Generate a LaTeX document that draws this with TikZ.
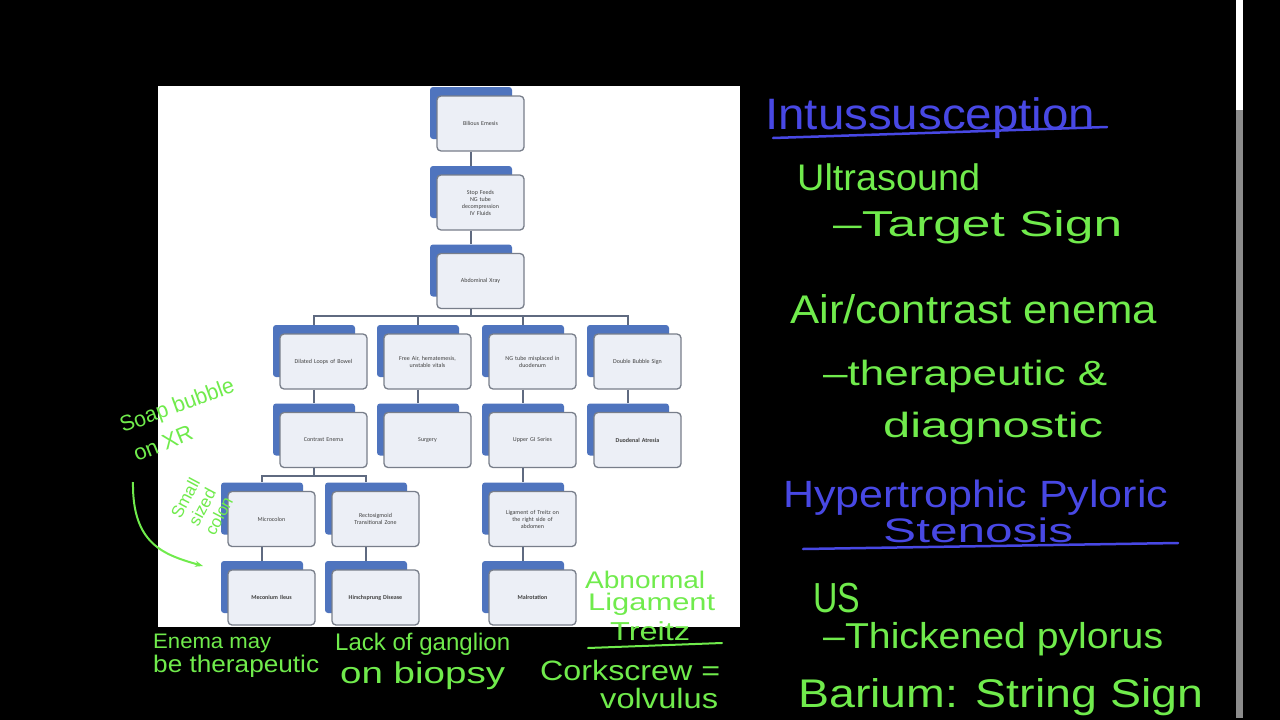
\documentclass[tikz,border=0pt]{standalone}
\usepackage{fontspec}
\setmainfont{Carlito}
\newfontfamily\handfont{Liberation Sans}
\usetikzlibrary{arrows.meta,positioning}
\usepackage{xcolor}
\definecolor{ChartBlue}{RGB}{79,116,190}
\definecolor{ChartFace}{RGB}{236,239,246}
\definecolor{ChartEdge}{RGB}{120,126,138}
\definecolor{ChartLink}{RGB}{95,106,128}
\definecolor{PenGreen}{RGB}{112,235,76}
\definecolor{PenBlue}{RGB}{72,72,228}

% stacked card: name, x, y (centre of the front card), text
\newcommand{\stackbox}[4]{%
  \node[boxback](#1-b) at (#2-9.5,#3-10.5) {};
  \node[box](#1) at (#2,#3) {#4};}
% pen note: width, font size, text
\newcommand{\scrawl}[3]{\resizebox{#1pt}{\height}{\handfont\fontsize{#2}{#2}\selectfont #3}}

\begin{document}
\begin{tikzpicture}[x=1pt,y=-1pt,box/.style={rectangle,rounded corners=4pt,draw=ChartEdge,line width=1.3pt,fill=ChartFace,align=center,text width=78pt,minimum width=87pt,minimum height=55pt,inner sep=0pt,text=black!75,font=\fontsize{6}{7}\selectfont},boxback/.style={rectangle,rounded corners=3pt,fill=ChartBlue,minimum width=82pt,minimum height=52pt,inner sep=0pt},link/.style={draw=ChartLink,line width=1.8pt},pen/.style={text=PenGreen,inner sep=0pt,anchor=base west},penblue/.style={text=PenBlue,inner sep=0pt,anchor=base west}]
\useasboundingbox (0,0) rectangle (1280,720);
\fill[black] (0,0) rectangle (1280,720);
\fill[white] (1236,0) rectangle (1243,110);
\fill[black!45] (1236,110) rectangle (1243,718);
\fill[white] (158,86) rectangle (740,627);
\coordinate (bus1) at (0,316);
\coordinate (bus2) at (0,476);

\stackbox{bil}{480.5}{123.5}{Bilious Emesis}
\stackbox{stop}{480.5}{202.5}{Stop Feeds\\NG tube\\decompression\\IV Fluids}
\stackbox{abd}{480.5}{281}{Abdominal Xray}
\stackbox{dil}{323.5}{361.5}{Dilated Loops of Bowel}
\stackbox{free}{427.5}{361.5}{Free Air, hematemesis,\\unstable vitals}
\stackbox{ngt}{532.5}{361.5}{NG tube misplaced in\\duodenum}
\stackbox{dbl}{637.5}{361.5}{Double Bubble Sign}
\stackbox{con}{323.5}{440}{Contrast Enema}
\stackbox{sur}{427.5}{440}{Surgery\\[6pt]}
\stackbox{ugi}{532.5}{440}{Upper GI Series}
\stackbox{duo}{637.5}{440}{\textbf{Duodenal Atresia}}
\stackbox{mic}{271.5}{519}{Microcolon}
\stackbox{rec}{375.5}{519}{Rectosigmoid\\Transitional Zone}
\stackbox{lig}{532.5}{519}{Ligament of Treitz on\\the right side of\\abdomen}
\stackbox{mec}{271.5}{597.5}{\textbf{Meconium Ileus}}
\stackbox{hir}{375.5}{597.5}{\textbf{Hirschsprung Disease}}
\stackbox{mal}{532.5}{597.5}{\textbf{Malrotation}}

\foreach \a/\b in {bil/stop,stop/abd,dil/con,free/sur,ngt/ugi,dbl/duo,ugi/lig,mic/mec,rec/hir,lig/mal}{\draw[link](\a-b |- \a.south)--(\b-b.north);}
\foreach \b in {dil,free,ngt,dbl}{\draw[link](abd-b |- abd.south)--(abd-b |- bus1)-|(\b-b.north);}
\foreach \b in {mic,rec}{\draw[link](con-b |- con.south)--(con-b |- bus2)-|(\b-b.north);}

% notes written over the slide
\node[penblue](intu) at (765,129) {\scrawl{330}{44}{Intussusception}};
\draw[PenBlue,line width=2.5pt,line cap=round] (773,138)--(1107,127);
\node[pen](ultra) at (797,190) {\scrawl{183}{37}{Ultrasound}};
\node[pen](target) at (833,236) {\scrawl{289}{36}{–Target Sign}};
\node[pen](air) at (790,323) {\scrawl{367}{40}{Air/contrast enema}};
\node[pen](thera) at (823,385) {\scrawl{284}{35}{–therapeutic \&}};
\node[pen](diag) at (883,437) {\scrawl{220}{35}{diagnostic}};
\node[penblue](hyper) at (783,507) {\scrawl{385}{38}{Hypertrophic Pyloric}};
\node[penblue](steno) at (883,542) {\scrawl{190}{34}{Stenosis}};
\draw[PenBlue,line width=2.5pt,line cap=round] (803,549)--(1178,543);
\node[pen](us) at (813,612) {\scrawl{47}{42}{US}};
\node[pen](thick) at (823,648) {\scrawl{340}{36}{–Thickened pylorus}};
\node[pen](barium) at (798,707) {\scrawl{405}{40}{Barium: String Sign}};

\node[pen,rotate=20](soap) at (123,433) {\scrawl{120}{22}{Soap bubble}};
\node[pen,rotate=22](onxr) at (137,462) {\scrawl{62}{22}{on XR}};
\node[pen,align=center,anchor=center,rotate=62,font=\handfont\fontsize{17}{19}\selectfont](small) at (202,507) {Small\\sized\\colon};
\coordinate (arrS) at (133,482);
\coordinate (arrE) at (203,566);
\draw[PenGreen,line width=2pt,-{Stealth[length=8pt]}] (arrS) .. controls (132,545) and (165,555) .. (arrE);

\node[pen](enema) at (153,648) {\scrawl{118}{21}{Enema may}};
\node[pen](bether) at (153,672) {\scrawl{166}{24}{be therapeutic}};
\node[pen](lack) at (335,650) {\scrawl{175}{24}{Lack of ganglion}};
\node[pen](biopsy) at (340,683) {\scrawl{165}{30}{on biopsy}};
\node[pen](abn) at (585,588) {\scrawl{120}{24}{Abnormal}};
\node[pen](ligt) at (588,610) {\scrawl{127}{24}{Ligament}};
\node[pen](treitz) at (610,640) {\scrawl{80}{26}{Treitz}};
\draw[PenGreen,line width=2pt,line cap=round] (588,648)--(722,643);
\node[pen](cork) at (540,680) {\scrawl{180}{28}{Corkscrew =}};
\node[pen](volv) at (600,708) {\scrawl{118}{28}{volvulus}};
\end{tikzpicture}
\end{document}
